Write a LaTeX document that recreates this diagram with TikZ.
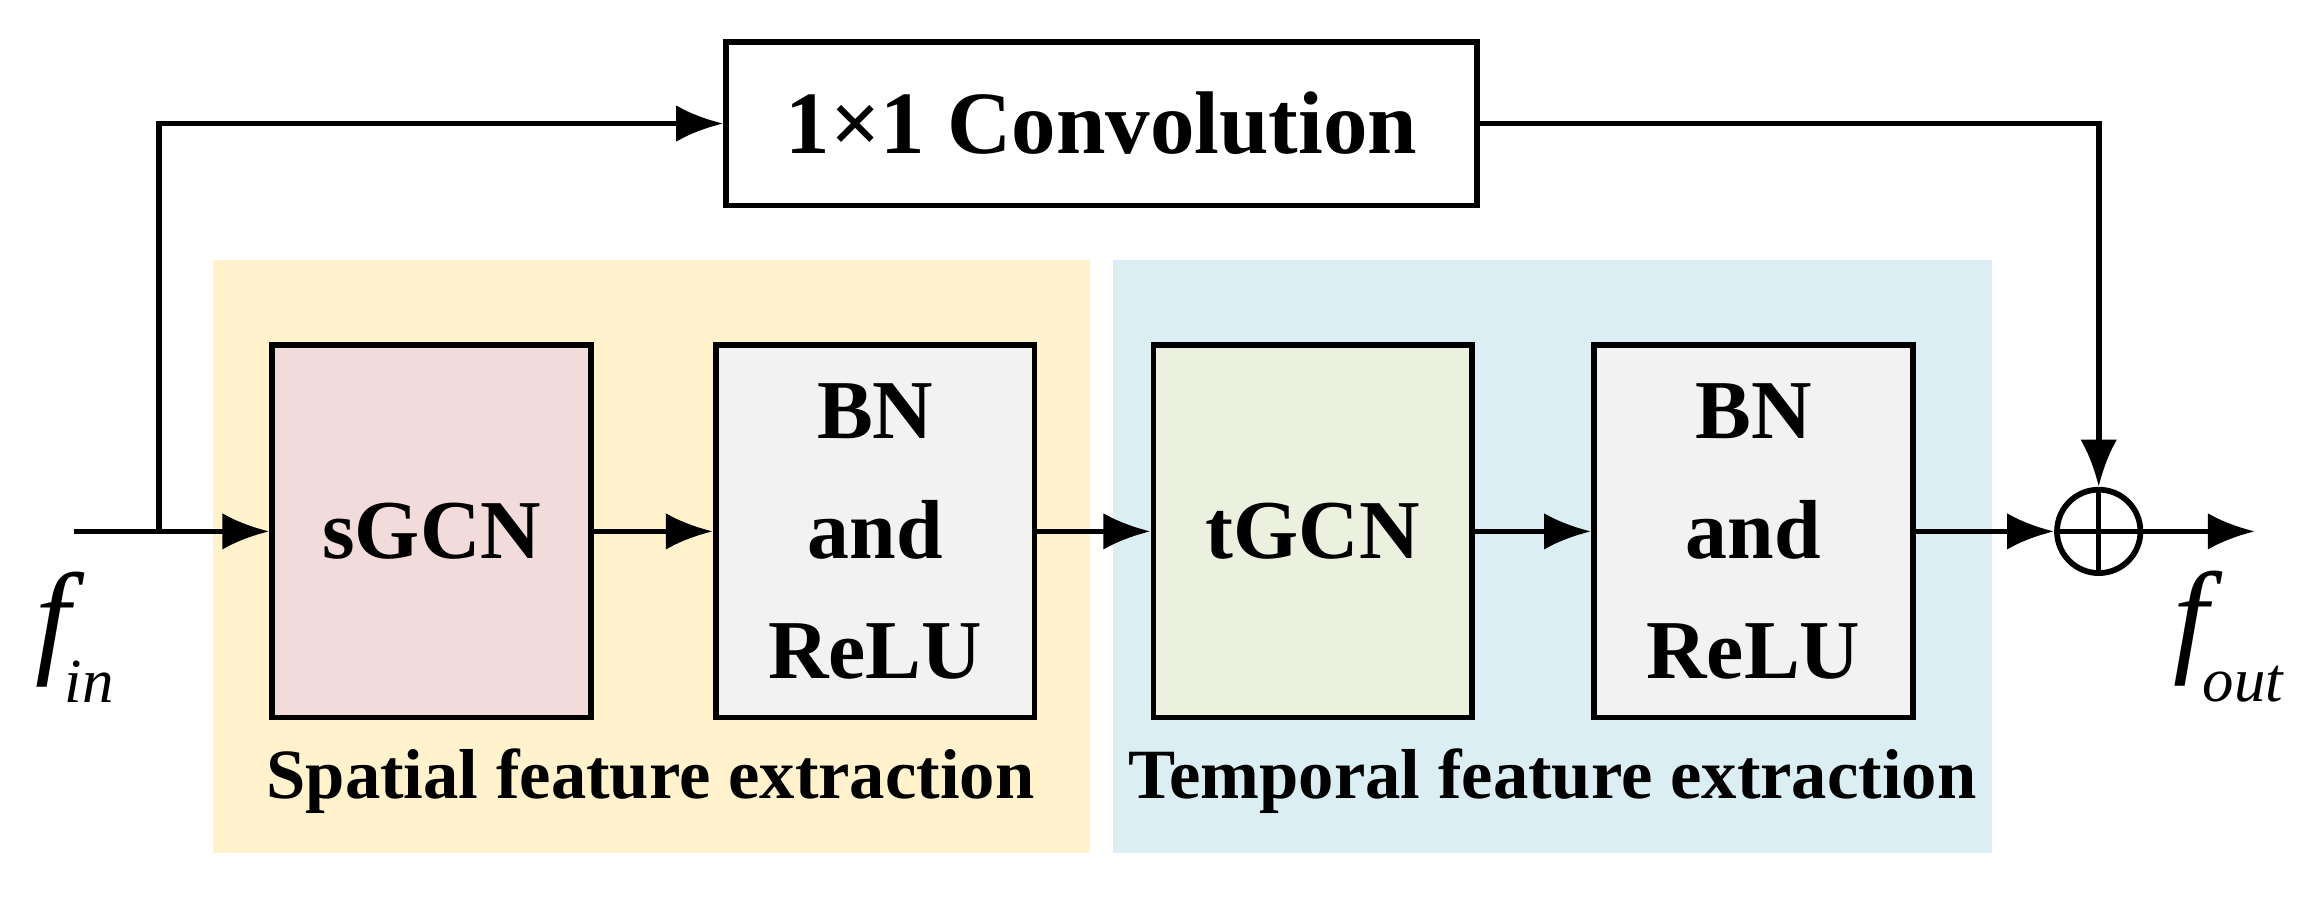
\documentclass[tikz,border=0pt]{standalone}
\usepackage{fontspec}
\setmainfont{Liberation Serif}
\usetikzlibrary{arrows.meta}
\definecolor{ybg}{HTML}{FFF2CC}
\definecolor{bbg}{HTML}{DAEEF3}
\definecolor{sg}{HTML}{F2DCDB}
\definecolor{bn}{HTML}{F2F2F2}
\definecolor{tg}{HTML}{EBF1DE}
\begin{document}
\begin{tikzpicture}[x=0.01cm,y=-0.01cm,
  box/.style={draw,line width=1.1pt,minimum width=2.14cm,minimum height=2.5cm,font=\fontsize{16}{23}\selectfont\bfseries,align=center},
  arr/.style={line width=1.1pt,-{Latex[length=9pt,width=7pt]}},
  lab/.style={font=\fontsize{13.5}{16}\selectfont\bfseries}]
\useasboundingbox (0,0) rectangle (1560,603);
\fill[ybg] (143,175) rectangle (732,573);
\fill[bbg] (748,175) rectangle (1338,573);
\node[draw,line width=1.1pt,minimum width=5.04cm,minimum height=1.1cm,font=\fontsize{17}{20}\selectfont\bfseries] (conv) at (740,83) {1×1 Convolution};
\node[box,fill=sg] (s) at (290,357) {sGCN};
\node[box,fill=bn] (b1) at (588,357) {BN\\and\\ReLU};
\node[box,fill=tg] (t) at (882,357) {tGCN};
\node[box,fill=bn] (b2) at (1178,357) {BN\\and\\ReLU};
\node[draw,circle,line width=1.1pt,minimum size=0.56cm,inner sep=0pt] (sum) at (1410,357) {};
\draw[line width=0.9pt] (sum.north) -- (sum.south) (sum.west) -- (sum.east);
\coordinate (in) at (50,357);
\coordinate (split) at (107,357);
\coordinate (out) at (1515,357);
\node[lab] at (437,525) {Spatial feature extraction};
\node[lab] at (1043,525) {Temporal feature extraction};
\node[font=\fontsize{24}{24}\selectfont\itshape] (fin) at (50,428) {\textit{f}\kern-1pt\raisebox{-8pt}{\fontsize{12}{12}\selectfont in}};
\node[font=\fontsize{24}{24}\selectfont\itshape] (fout) at (1497,428) {\textit{f}\kern-1pt\raisebox{-8pt}{\fontsize{12}{12}\selectfont out}};
\draw[arr] (in) -- (s);
\draw[arr] (split) |- (conv);
\draw[arr] (s) -- (b1);
\draw[arr] (b1) -- (t);
\draw[arr] (t) -- (b2);
\draw[arr] (b2) -- (sum);
\draw[arr] (conv) -| (sum);
\draw[arr] (sum) -- (out);
\end{tikzpicture}
\end{document}
